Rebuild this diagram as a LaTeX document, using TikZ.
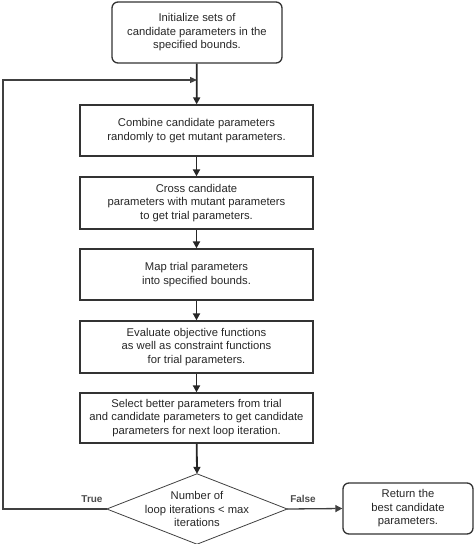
\documentclass[tikz,border=0pt]{standalone}
\usepackage{fontspec}
\setmainfont{Liberation Sans}
\usetikzlibrary{arrows.meta}
\begin{document}
\begin{tikzpicture}[x=1bp,y=-1bp,
  box/.style={draw=black!80, line width=1.3bp, minimum width=233bp, minimum height=51bp,
    align=center, font=\fontsize{11.3}{13.5}\selectfont, text=black!85, inner sep=0pt},
  rbox/.style={box, rounded corners=6bp},
  flow/.style={draw=black!85, line width=1.8bp, -{Triangle[length=7bp,width=7bp]}},
  thin/.style={draw=black!75, line width=1bp},
  lab/.style={font=\fontsize{10}{12}\selectfont\bfseries, text=black!70}]
\useasboundingbox (0,0) rectangle (474,544);
\node[rbox, minimum width=170bp, minimum height=61bp] (b1) at (197,32.5)
  {Initialize sets of\\candidate parameters in the\\specified bounds.};
\node[box] (b2) at (196.5,130.5) {Combine candidate parameters\\randomly to get mutant parameters.};
\node[box, minimum height=52bp] (b3) at (196.5,203) {Cross candidate\\parameters with mutant parameters\\to get trial parameters.};
\node[box] (b4) at (196.5,274.5) {Map trial parameters\\into specified bounds.};
\node[box, minimum height=52bp] (b5) at (196.5,347) {Evaluate objective functions\\as well as constraint functions\\for trial parameters.};
\node[box, minimum height=50bp] (b6) at (196.5,418) {Select better parameters from trial\\and candidate parameters to get candidate\\parameters for next loop iteration.};
\node[minimum width=180bp, minimum height=70bp, inner sep=0pt, align=center,
  font=\fontsize{11.3}{13.5}\selectfont, text=black!85] (dec) at (197,509)
  {Number of\\loop iterations < max\\iterations};
\draw[thin, line width=0.8bp] (dec.north) -- (dec.east) -- (dec.south) -- (dec.west) -- cycle;
\node[rbox, minimum width=130bp, minimum height=51bp] (ret) at (408,508.5)
  {Return the\\best candidate\\parameters.};
\coordinate (j) at (197,80);
\coordinate (lc) at (3,509);
\draw[flow] (b1) -- (b2);
\draw[flow] (b2) -- (b3);
\draw[flow] (b3) -- (b4);
\draw[flow] (b4) -- (b5);
\draw[flow] (b5) -- (b6);
\draw[flow] (b6) -- (dec.north);
\draw[thin, line width=1.3bp, -{Triangle[length=7bp,width=6bp]}] (dec.west) -- (lc) |- (j);
\draw[thin, line width=1.3bp, -{Triangle[length=7bp,width=7bp]}] (dec.east) -- (ret.west);
\node[lab] (t) at (92,499) {True};
\node[lab] (f) at (303,499) {False};
\end{tikzpicture}
\end{document}
